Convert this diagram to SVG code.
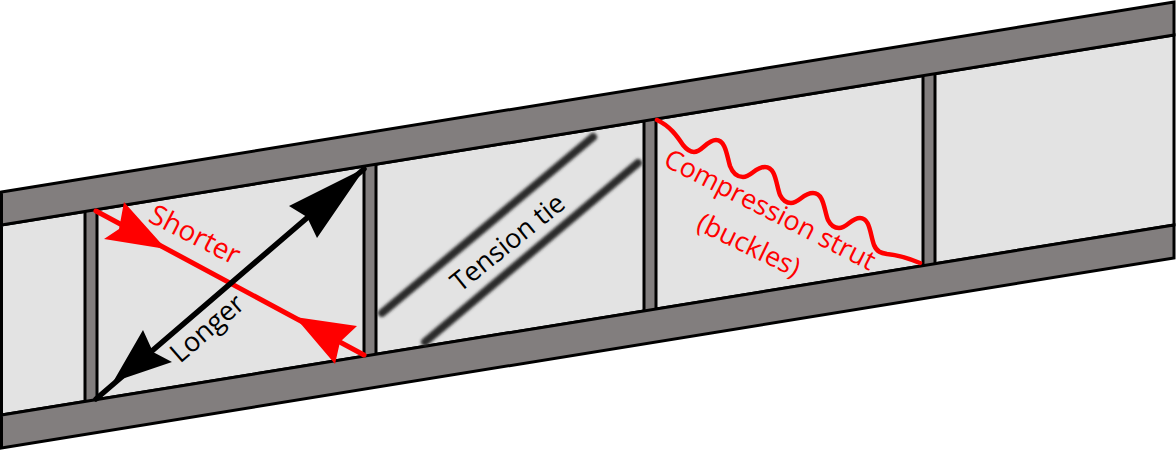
<svg xmlns="http://www.w3.org/2000/svg" width="1176" height="451" viewBox="0 0 1176 451">
<style>
.e{stroke:#000;stroke-width:3;fill:none}
.f{fill:#827e7e;stroke:#000;stroke-width:3;stroke-linejoin:miter}
.s{fill:#827e7e}
text{font-family:"Open Sans","DejaVu Sans",sans-serif}
</style>
<defs><filter id="b" x="-10%" y="-10%" width="120%" height="120%"><feGaussianBlur stdDeviation="1.8"/></filter>
<filter id="b2" x="-10%" y="-10%" width="120%" height="120%"><feGaussianBlur stdDeviation="0.7"/></filter></defs>
<g id="web"><polygon points="1.5,225 1174,35 1174,225 1.5,415" fill="#e3e3e3" stroke="#000" stroke-width="3"/></g>
<g id="stiffeners">
<polygon class="s" points="85,212 97,210 97,399 85,401"/><path class="e" d="M85,212V401M97,210V399"/>
<polygon class="s" points="364,166 376,164 376,354 364,356"/><path class="e" d="M364,166V356M376,164V354"/>
<polygon class="s" points="644,121 656,119 656,309 644,311"/><path class="e" d="M644,121V311M656,119V309"/>
<polygon class="s" points="923,76 935,74 935,264 923,266"/><path class="e" d="M923,76V266M935,74V264"/>
</g>
<g id="top-flange"><polygon class="f" points="1.5,192 1174,2 1174,35 1.5,225"/></g>
<g id="bottom-flange"><polygon class="f" points="1.5,415 1174,225 1174,258 1.5,448"/></g>
<g id="connectors">
<path d="M96,211L364,355" stroke="#f00" stroke-width="5" stroke-linecap="round" fill="none"/>
<polygon points="124,202 166,249 104,239 119,229" fill="#f00"/>
<polygon points="335,364 295,317 357,326 340,342" fill="#f00"/>
<path d="M96,399L364,169" stroke="#000" stroke-width="5.5" stroke-linecap="round" fill="none"/>
<polygon points="365,168 317,238 307,217 289,206" fill="#000"/>
<polygon points="113,382 172,362 153,352 143,330" fill="#000"/>
<path d="M382,313L593,137M425,342L638,163" stroke="#2a2a2a" stroke-width="8" stroke-linecap="round" fill="none" filter="url(#b)"/>
<path d="M657,120C670,126 677,136 683,145C687,150 690,152 694,152C702,152 707,140 716,140C726,140 727,157 730,166C733,174 737,177 743,177C751,177 755,167 765,167C776,167 776,185 780,195C783,201 786,203 791,203C799,203 803,193 813,193C824,193 824,210 828,220C831,226 834,228 839,228C847,228 851,218 860,218C870,218 870,234 874,245C877,252 881,253 887,254C898,255 908,258 920,263" stroke="#f00" stroke-width="4.5" stroke-linecap="round" fill="none" filter="url(#b2)"/>
</g>
<g id="labels">
<text x="147" y="221" font-size="28" fill="#f00" transform="rotate(27 147 221)">Shorter</text>
<text x="180" y="364" font-size="27" fill="#000" transform="rotate(-41 180 364)">Longer</text>
<text x="460" y="293" font-size="27" fill="#000" transform="rotate(-39 460 293)">Tension tie</text>
<text x="662" y="165" font-size="27" fill="#f00" transform="rotate(27 662 165)">Compression strut</text>
<text x="695" y="229" font-size="27" fill="#f00" transform="rotate(26 695 229)">(buckles)</text>
</g>
</svg>
